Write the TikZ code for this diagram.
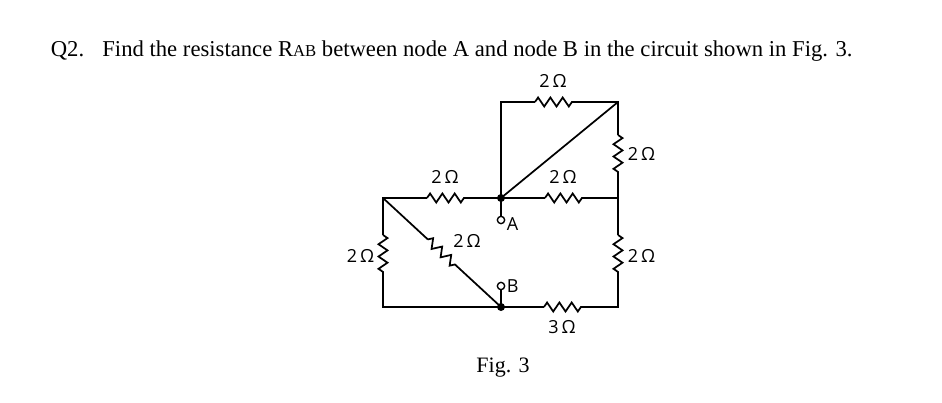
\documentclass[tikz,border=0pt]{standalone}
\usepackage{fontspec}
\setmainfont{Liberation Serif}
\newfontfamily\lblfont{Open Sans}
\usetikzlibrary{decorations.pathmorphing,calc}
\begin{document}
\begin{tikzpicture}[x=0.75pt,y=-0.75pt,line width=1.3pt,
  wire/.style={draw,line width=1.3pt},
  res/.style={draw,line width=1.3pt,decorate,decoration={zigzag,segment length=12.3*0.75pt,amplitude=4.5*0.75pt}},
  lbl/.style={font=\lblfont\fontsize{13.5}{15}\selectfont,inner sep=0pt},
  term/.style={circle,draw,fill=white,line width=1pt,inner sep=0pt,minimum size=5.5pt},
  dot/.style={circle,fill=black,inner sep=0pt,minimum size=6pt}]
\useasboundingbox (0,0) rectangle (942,403);
\node[anchor=base west,font=\fontsize{17}{20}\selectfont,inner sep=0pt] (title) at (50,57) {Q2.\hspace{0.8em}Find the resistance R{\fontsize{12.5}{14}\selectfont AB} between node A and node B in the circuit shown in Fig. 3.};
\node[anchor=base,font=\fontsize{16.5}{20}\selectfont,inner sep=0pt] (fig) at (503,372) {Fig. 3};
\coordinate (TL) at (501,102); \coordinate (TR) at (618,102);
\coordinate (L) at (383,198); \coordinate (A0) at (501,198); \coordinate (R) at (618,198);
\coordinate (BL) at (383,307); \coordinate (B0) at (501,307); \coordinate (BR) at (618,307);
% resistor end points
\coordinate (r1a) at (535,102); \coordinate (r1b) at (572,102);
\coordinate (r2a) at (427,198); \coordinate (r2b) at (464,198);
\coordinate (r3a) at (545,198); \coordinate (r3b) at (582,198);
\coordinate (r4a) at (618,135); \coordinate (r4b) at (618,172);
\coordinate (r5a) at (618,235); \coordinate (r5b) at (618,272);
\coordinate (r6a) at (383,235); \coordinate (r6b) at (383,272);
\coordinate (r7a) at (544,307); \coordinate (r7b) at (581,307);
\coordinate (r8a) at ($(L)!0.38!(B0)$); \coordinate (r8b) at ($(L)!0.61!(B0)$);
% wires
\draw[wire] (A0) -- (TL) -- (r1a); \draw[wire] (r1b) -- (TR) -- (r4a);
\draw[wire] (r4b) -- (R) -- (r5a); \draw[wire] (r5b) -- (BR) -- (r7b);
\draw[wire] (r7a) -- (B0) -- (BL) -- (r6b); \draw[wire] (r6a) -- (L) -- (r2a);
\draw[wire] (r2b) -- (A0) -- (r3a); \draw[wire] (r3b) -- (R);
\draw[wire] (A0) -- (TR);
\draw[wire] (L) -- (r8a); \draw[wire] (r8b) -- (B0);
% resistors
\draw[res] (r1a) -- (r1b); \draw[res] (r2a) -- (r2b); \draw[res] (r3a) -- (r3b);
\draw[res] (r4a) -- (r4b); \draw[res] (r5a) -- (r5b); \draw[res] (r6a) -- (r6b);
\draw[res] (r7a) -- (r7b); \draw[res] (r8a) -- (r8b);
% terminals
\node[term] (A) at (501,220) {}; \node[term] (B) at (501,286) {};
\draw[line width=1.2pt] (A0) -- (A.north); \draw[line width=1.2pt] (B0) -- (B.south);
\node[dot] (dA) at (A0) {}; \node[dot] (dB) at (B0) {};
\node[lbl,anchor=west] (lA) at (506,224) {A};
\node[lbl,anchor=west] (lB) at (506,286) {B};
% labels
\node[lbl] (l1) at (553,81) {2\,Ω};
\node[lbl] (l2) at (445,177) {2\,Ω};
\node[lbl] (l3) at (563,177) {2\,Ω};
\node[lbl,anchor=west] (l4) at (627,154) {2\,Ω};
\node[lbl,anchor=west] (l5) at (627,256) {2\,Ω};
\node[lbl,anchor=east] (l6) at (375,256) {2\,Ω};
\node[lbl] (l7) at (467,241) {2\,Ω};
\node[lbl] (l8) at (562,327) {3\,Ω};
\end{tikzpicture}
\end{document}
